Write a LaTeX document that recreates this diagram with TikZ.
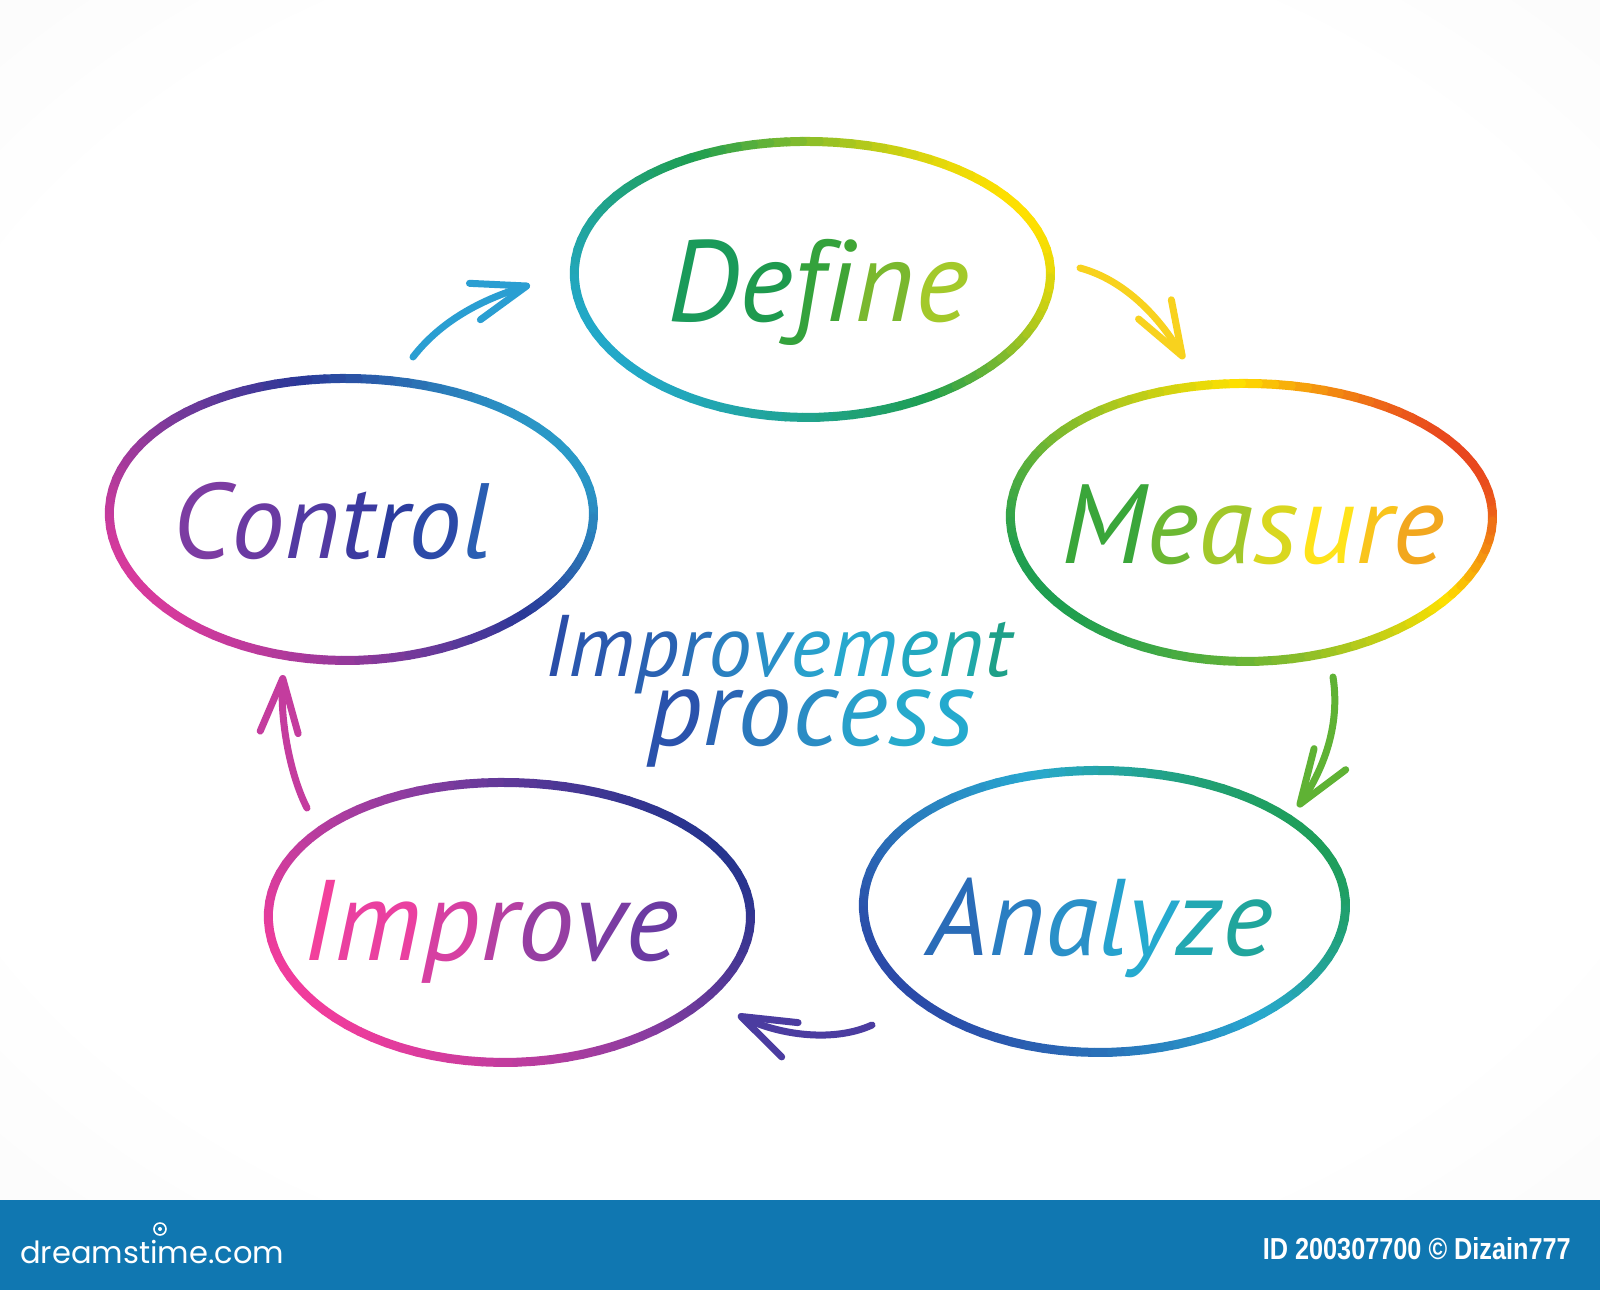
\documentclass[tikz,border=0pt]{standalone}
\usepackage{fontspec}
\setmainfont{PT Sans}
\newfontfamily\footfont{Liberation Sans}
\newfontfamily\logofont{Poppins}
\usetikzlibrary{arrows.meta,shapes.geometric}
\newcommand\clet[2]{\textcolor[HTML]{#1}{#2}}
\definecolor{bggray}{HTML}{EAEAEA}
\definecolor{bgmid}{HTML}{F4F4F4}
\definecolor{footblue}{HTML}{1077B1}
\definecolor{dA}{HTML}{22A8C8}\definecolor{dB}{HTML}{1E9E50}\definecolor{dC}{HTML}{FFE000}
\definecolor{mA}{HTML}{1E9E50}\definecolor{mB}{HTML}{FFE000}\definecolor{mC}{HTML}{E8461E}
\definecolor{aA}{HTML}{2A4AA8}\definecolor{aB}{HTML}{28A8D0}\definecolor{aC}{HTML}{1E9E5A}
\definecolor{iA}{HTML}{F03C9C}\definecolor{iB}{HTML}{8A3CA0}\definecolor{iC}{HTML}{26348E}
\definecolor{cA}{HTML}{D63A9C}\definecolor{cB}{HTML}{2A3898}\definecolor{cC}{HTML}{2A9AC8}
\definecolor{cdcol}{HTML}{2A9ED2}
\definecolor{dmcol}{HTML}{F8D21E}
\definecolor{macol}{HTML}{5FB234}
\definecolor{aicol}{HTML}{4B3CA0}
\definecolor{iccol}{HTML}{C43C9E}
\pgfdeclareradialshading{bgshade}{\pgfpoint{0bp}{0bp}}{color(0bp)=(white); color(28bp)=(white); color(52bp)=(bgmid); color(72bp)=(bggray)}
% #1 cx #2 cy #3 rx #4 ry #5 phi #6 A #7 B #8 C #9 b
\newcommand\gradring[9]{%
  \foreach \t in {0,4,...,356}{%
    \pgfmathsetmacro\s{(cos(\t+2-#5)+1)/2}%
    \pgfmathtruncatemacro\q{\s<#9 ? 0 : 1}%
    \pgfmathtruncatemacro\p{\s<#9 ? 100*\s/#9 : 100*(\s-#9)/(1-#9)}%
    \ifnum\q=0 \colorlet{segc}{#7!\p!#6}\else\colorlet{segc}{#8!\p!#7}\fi
    \pgfmathsetmacro\fa{1+0.012*sin(3*\t+#5)}%
    \pgfmathsetmacro\fb{1+0.012*sin(3*(\t+4)+#5)}%
    \draw[ring, segc] ({#1+\fa*#3*cos(\t)},{#2-\fa*#4*sin(\t)}) -- ({#1+\fb*#3*cos(\t+4)},{#2-\fb*#4*sin(\t+4)});
  }%
}
\tikzset{
  ring/.style={line width=9pt, line cap=round},
  stage/.style={ellipse, draw=none, inner sep=0pt},
  lbl/.style={anchor=base, inner sep=0pt, font=\fontsize{100}{100}\selectfont\itshape},
  flow/.style={line width=7pt, line cap=round, -{Straight Barb[length=54pt,width=38pt,round]}},
  foot/.style={inner sep=0pt, text=white},
}
\begin{document}
\begin{tikzpicture}[x=1pt,y=-1pt]
\useasboundingbox (0,0) rectangle (1600,1290);
\shade[shading=bgshade] (0,0) rectangle (1600,1200);

% stage areas
\node[stage, minimum width=476pt, minimum height=276pt] (define) at (811,278) {};
\node[stage, minimum width=482pt, minimum height=278pt] (measure) at (1250,521) {};
\node[stage, minimum width=482pt, minimum height=282pt] (analyze) at (1103,910) {};
\node[stage, minimum width=482pt, minimum height=280pt] (improve) at (508,921) {};
\node[stage, minimum width=484pt, minimum height=282pt] (control) at (350,518) {};

\gradring{811}{278}{238}{138}{30}{dA}{dB}{dC}{0.5}
\gradring{1250}{521}{241}{139}{30}{mA}{mB}{mC}{0.72}
\gradring{1103}{910}{241}{141}{30}{aA}{aB}{aC}{0.6}
\gradring{508}{921}{241}{140}{30}{iA}{iB}{iC}{0.55}
\gradring{350}{518}{242}{141}{30}{cA}{cB}{cC}{0.65}

% labels
\node[lbl] (tdefine) at (818,321) {\resizebox{301pt}{!}{\clet{1A9A5A}{D}\clet{1E9A4E}{e}\clet{34A23C}{f}\clet{3FA535}{i}\clet{7AB82E}{n}\clet{A3C92A}{e}}};
\node[lbl] (tmeasure) at (1253,563) {\resizebox{383pt}{!}{\clet{3AA63A}{M}\clet{6CB832}{e}\clet{A2C82A}{a}\clet{D9D720}{s}\clet{FFE31A}{u}\clet{F9C41C}{r}\clet{F2A71E}{e}}};
\node[lbl] (tanalyze) at (1100,955) {\resizebox{345pt}{!}{\clet{2A6CB8}{A}\clet{2A7EC2}{n}\clet{2A90C8}{a}\clet{26A2CE}{l}\clet{26AACF}{y}\clet{22A8B2}{z}\clet{20A59C}{e}}};
\node[lbl] (timprove) at (491,960) {\resizebox{376pt}{!}{\clet{F2409C}{I}\clet{EA40A0}{m}\clet{D640A2}{p}\clet{B540A2}{r}\clet{963EA2}{o}\clet{7A3CA2}{v}\clet{6B3AA2}{e}}};
\node[lbl] (tcontrol) at (332,558) {\resizebox{318pt}{!}{\clet{7C3CA2}{C}\clet{6A3AA2}{o}\clet{523AA2}{n}\clet{3C3AA0}{t}\clet{2C3C9E}{r}\clet{2C4AA8}{o}\clet{2A5EB2}{l}}};
\node[lbl] (timpr) at (778,676) {\resizebox{467pt}{!}{\clet{2A4EA8}{I}\clet{2A58AE}{m}\clet{2A62B2}{p}\clet{2A70B8}{r}\clet{2A80C0}{o}\clet{2A90C8}{v}\clet{28A0CC}{e}\clet{26A8CE}{m}\clet{22A8C0}{e}\clet{20A8A8}{n}\clet{1EA088}{t}}};
\node[lbl] (tproc) at (811,745) {\resizebox{328pt}{!}{\clet{2A52AC}{p}\clet{2A64B4}{r}\clet{2A78BC}{o}\clet{2A8CC4}{c}\clet{28A0CA}{e}\clet{26AACC}{s}\clet{24AACE}{s}}};

% connectors
\coordinate (cd0) at (413,357); \coordinate (cd1) at (530,285);
\draw[flow, cdcol] (cd0) .. controls (440,322) and (480,300) .. (cd1);
\coordinate (dm0) at (1080,268); \coordinate (dm1) at (1184,359);
\draw[flow, dmcol] (dm0) .. controls (1125,280) and (1160,318) .. (dm1);
\coordinate (ma0) at (1333,677); \coordinate (ma1) at (1298,807);
\draw[flow, macol] (ma0) .. controls (1340,722) and (1326,765) .. (ma1);
\coordinate (ai0) at (872,1025); \coordinate (ai1) at (738,1015);
\draw[flow, aicol] (ai0) .. controls (835,1042) and (782,1036) .. (ai1);
\coordinate (ic0) at (307,808); \coordinate (ic1) at (283,675);
\draw[flow, iccol] (ic0) .. controls (290,775) and (280,720) .. (ic1);

% footer
\fill[footblue] (0,1200) rectangle (1600,1290);
\node[foot, anchor=base west] (logo) at (20,1263) {\resizebox{264pt}{!}{\logofont dreamstime.com}};
\draw[white, line width=1.6pt] (160,1229) circle (6);
\fill[white] (160,1229) circle (2);
\node[foot, anchor=base east] (credit) at (1571,1259) {\resizebox{308pt}{22pt}{\footfont\bfseries ID 200307700 \textcopyright{} Dizain777}};
\end{tikzpicture}
\end{document}
